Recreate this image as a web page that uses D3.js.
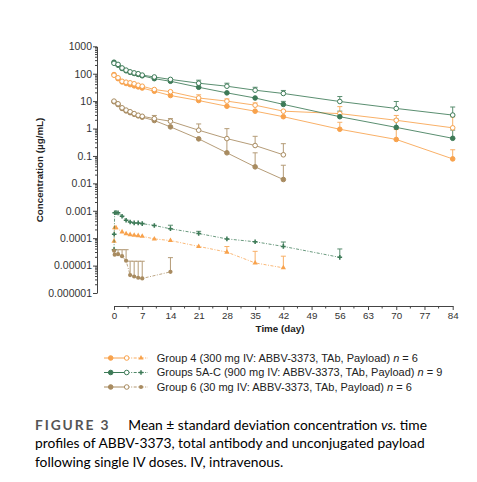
<!DOCTYPE html>
<html>
<head>
<meta charset="utf-8">
<script src="https://d3js.org/d3.v7.min.js"></script>
<style>
  body { margin: 0; background: #fff; }
  svg { display: block; }
</style>
</head>
<body>
<script>
// ---- data ----
var tabDays = [0, 1, 2, 3, 4, 5, 6, 7, 10, 14, 21, 28, 35, 42, 56, 70, 84];
var g6Days = [0, 1, 2, 3, 4, 5, 6, 7, 10, 14, 21, 28, 35, 42];

// Group 4 (300 mg)
var g4Adc = [93, 66, 50, 44, 40, 36, 33, 30, 23, 16, 10.5, 6.5, 4.3, 2.7, 0.94, 0.40, 0.078];
var g4AdcSd = [0, 0, 0, 0, 0, 0, 0, 0, 0, 0, 0, 0, 0, 0, 0.75, 0.52, 0.09];
var g4Tab = [88, 71, 53, 49, 46.5, 43, 38, 35, 26.5, 22, 13, 10, 7.1, 4.3, 3.5, 2.0, 1.06];
var g4TabSd = [0, 0, 0, 0, 0, 0, 0, 0, 0, 0, 4, 2, 1.5, 0, 2.8, 1, 1.6];
var g4PayDays = [0.02, 0.17, 0.5, 2, 3, 4, 5, 6, 7, 10, 14, 21, 28, 35, 42];
var g4Pay = [0.000077, 0.00024, 0.00024, 0.00017, 0.000144, 0.000135, 0.000128, 0.000124, 0.000117, 0.000094, 0.000082, 0.00005, 0.000031, 0.0000125, 0.0000083];
var g4PaySd = [0, 0, 0, 0, 0, 0, 0, 0, 0, 0, 0, 0, 0.0000186, 0.0000206, 0.0000137];

// Groups 5A-C (900 mg)
var g5Adc = [263, 205, 155, 128, 112, 102, 94, 84, 66, 53, 32, 20, 13, 7.6, 2.7, 1.1, 0.44];
var g5AdcSd = [0, 0, 0, 0, 0, 0, 0, 0, 0, 0, 0, 0, 0, 2.2, 1.6, 1.1, 0.44];
var g5Tab = [240, 219, 162, 135, 117, 107, 100, 89, 76, 62, 45, 35, 25, 19, 9.7, 5.4, 3.1];
var g5TabSd = [0, 0, 0, 0, 0, 0, 0, 0, 0, 3, 13, 10, 7, 5.5, 5, 4.3, 3];
var g5PayDays = [0.02, 0.05, 0.17, 0.5, 1, 2, 3, 4, 5, 6, 7, 10, 14, 21, 28, 35, 42, 56];
var g5Pay = [0.000038, 0.00014, 0.00085, 0.00086, 0.00084, 0.00063, 0.00045, 0.00039, 0.00036, 0.00036, 0.00034, 0.00029, 0.00022, 0.000148, 0.000094, 0.000074, 0.00005, 0.00002];
var g5PaySd = [0, 0, 0, 0, 0, 0, 0, 0, 0, 0, 0, 0, 0.000077, 0.00003, 0, 0, 0.0000225, 0.0000204];

// Group 6 (30 mg)
var g6Adc = [9.5, 7.5, 5.4, 4.4, 3.8, 3.3, 2.9, 2.6, 1.96, 1.15, 0.42, 0.13, 0.040, 0.0138];
var g6AdcSd = [0, 0, 0, 0, 0, 0, 0, 0, 0, 0, 0, 0.27, 0.09, 0.032];
var g6Tab = [10, 8, 5.7, 4.7, 4.1, 3.5, 3.06, 2.8, 2.3, 1.85, 0.87, 0.43, 0.24, 0.11];
var g6TabSd = [0, 0, 0, 0, 0, 0, 0, 0, 0.7, 0.45, 0.6, 0.56, 0.28, 0.17];
var g6PayDays = [0.02, 0.17, 1, 2, 3, 4, 5, 6, 7, 14];
var g6Pay = [0.000035, 0.000025, 0.000026, 0.000022, 0.000015, 0.0000045, 0.000004, 0.0000036, 0.0000034, 0.0000059];
var g6PaySd = [0, 0, 0.000012, 0.000016, 0.000023, 0.00001, 0.0000104, 0.0000108, 0.000011, 0.0000136];

var yTicks = [1000, 100, 10, 1, 0.1, 0.01, 0.001, 0.0001, 0.00001, 0.000001];
var yTickLabels = ["1000", "100", "10", "1", "0.1", "0.01", "0.001", "0.0001", "0.00001", "0.000001"];
var xTicks = [0, 7, 14, 21, 28, 35, 42, 49, 56, 63, 70, 77, 84];

var legendLabels = [
  "Group 4 (300 mg IV: ABBV-3373, TAb, Payload) ",
  "Groups 5A-C (900 mg IV: ABBV-3373, TAb, Payload) ",
  "Group 6 (30 mg IV: ABBV-3373, TAb, Payload) "
];
var legendN = ["6", "9", "6"];

var orange = "#f8a24c", green = "#3d7a57", brown = "#a88b60";

// ---- drawing ----
var svg = d3.select("body").append("svg")
  .attr("width", 477)
  .attr("height", 482);

var x = d3.scaleLinear().domain([0, 84]).range([114, 452.7]);
var y = d3.scaleLog().domain([0.000001, 1000]).range([293, 46.3]);

var axisFont = "'Liberation Sans', Arial, sans-serif";
var axisColor = "#444";

// y axis
var yAxis = svg.append("g").attr("transform", "translate(97,0)")
  .call(d3.axisLeft(y).tickValues(yTicks)
    .tickFormat(function(d, i) { return yTickLabels[i]; })
    .tickSize(4).tickPadding(1).tickSizeOuter(0));
var yMinor = [];
yTicks.slice(1).forEach(function(t) {
  for (var k = 2; k <= 9; k++) yMinor.push(t * k);
});
yAxis.selectAll(".minor").data(yMinor).enter().append("line")
  .attr("class", "minor")
  .attr("x1", 0).attr("x2", -2)
  .attr("y1", function(d) { return y(d); })
  .attr("y2", function(d) { return y(d); });

// x axis
var xAxis = svg.append("g").attr("transform", "translate(0,306)")
  .call(d3.axisBottom(x).tickValues(xTicks).tickSize(4).tickPadding(2).tickSizeOuter(0));
xAxis.selectAll(".minor").data(xTicks.slice(0, -1)).enter().append("line")
  .attr("class", "minor")
  .attr("y1", 0).attr("y2", 2.5)
  .attr("x1", function(d) { return x(d + 3.5); })
  .attr("x2", function(d) { return x(d + 3.5); });

[yAxis, xAxis].forEach(function(a) {
  a.select(".domain").attr("stroke", axisColor);
  a.selectAll("line").attr("stroke", axisColor);
  a.selectAll("text").attr("fill", "#333").style("font-family", axisFont);
});
yAxis.selectAll("text").style("font-size", "10.5px");
xAxis.selectAll("text").style("font-size", "9.8px");

svg.append("text")
  .attr("transform", "translate(43,170) rotate(-90)")
  .attr("text-anchor", "middle")
  .style("font-family", axisFont).style("font-size", "9.8px").style("font-weight", "bold")
  .attr("fill", "#222")
  .text("Concentration (\u00b5g/mL)");

svg.append("text")
  .attr("x", 280).attr("y", 332)
  .attr("text-anchor", "middle")
  .style("font-family", axisFont).style("font-size", "9.8px").style("font-weight", "bold")
  .attr("fill", "#222")
  .text("Time (day)");

// series
var series = [
  { days: g4PayDays, v: g4Pay, sd: g4PaySd, c: orange, kind: "pay", sym: d3.symbolTriangle },
  { days: g5PayDays, v: g5Pay, sd: g5PaySd, c: green, kind: "pay", sym: d3.symbolCross },
  { days: g6PayDays, v: g6Pay, sd: g6PaySd, c: brown, kind: "pay", sym: d3.symbolCircle },
  { days: g6Days, v: g6Adc, sd: g6AdcSd, c: brown, kind: "adc" },
  { days: g6Days, v: g6Tab, sd: g6TabSd, c: brown, kind: "tab" },
  { days: tabDays, v: g4Adc, sd: g4AdcSd, c: orange, kind: "adc" },
  { days: tabDays, v: g4Tab, sd: g4TabSd, c: orange, kind: "tab" },
  { days: tabDays, v: g5Adc, sd: g5AdcSd, c: green, kind: "adc" },
  { days: tabDays, v: g5Tab, sd: g5TabSd, c: green, kind: "tab" }
];

var line = d3.line()
  .x(function(d) { return x(d[0]); })
  .y(function(d) { return y(d[1]); });

var plot = svg.append("g");

// error bars first
series.forEach(function(s) {
  var pts = s.days.map(function(d, i) { return [d, s.v[i], s.sd[i]]; }).filter(function(p) { return p[2] > 0; });
  var eb = plot.append("g").attr("stroke", s.c).attr("stroke-width", 1).attr("opacity", 0.85);
  eb.selectAll(".v").data(pts).enter().append("line")
    .attr("x1", function(p) { return x(p[0]); }).attr("x2", function(p) { return x(p[0]); })
    .attr("y1", function(p) { return y(p[1]); }).attr("y2", function(p) { return y(p[1] + p[2]); });
  eb.selectAll(".h").data(pts).enter().append("line")
    .attr("x1", function(p) { return x(p[0]) - 2.5; }).attr("x2", function(p) { return x(p[0]) + 2.5; })
    .attr("y1", function(p) { return y(p[1] + p[2]); }).attr("y2", function(p) { return y(p[1] + p[2]); });
});

series.forEach(function(s) {
  var pts = s.days.map(function(d, i) { return [d, s.v[i]]; });
  plot.append("path").datum(pts)
    .attr("d", line)
    .attr("fill", "none")
    .attr("stroke", s.c)
    .attr("stroke-width", s.kind === "pay" ? 0.9 : 1)
    .attr("stroke-opacity", 0.85)
    .attr("stroke-dasharray", s.kind === "pay" ? "3,1.5,1,1.5" : null);
  if (s.kind === "pay") {
    plot.append("g").selectAll("path").data(pts).enter().append("path")
      .attr("transform", function(p) { return "translate(" + x(p[0]) + "," + y(p[1]) + ")"; })
      .attr("d", d3.symbol().type(s.sym).size(s.sym === d3.symbolCircle ? 14 : 12))
      .attr("fill", s.c);
  } else {
    plot.append("g").selectAll("circle").data(pts).enter().append("circle")
      .attr("cx", function(p) { return x(p[0]); })
      .attr("cy", function(p) { return y(p[1]); })
      .attr("r", 2.3)
      .attr("fill", s.kind === "tab" ? "#fff" : s.c)
      .attr("stroke", s.c)
      .attr("stroke-width", 1);
  }
});

// legend
var legColors = [orange, green, brown];
var legSyms = [d3.symbolTriangle, d3.symbolCross, d3.symbolCircle];
var leg = svg.append("g");
legendLabels.forEach(function(lbl, i) {
  var cy = 358 + i * 14.5;
  var row = leg.append("g");
  row.append("line").attr("x1", 104).attr("x2", 126.7).attr("y1", cy).attr("y2", cy)
    .attr("stroke", legColors[i]).attr("stroke-width", 1);
  row.append("line").attr("x1", 126.7).attr("x2", 148).attr("y1", cy).attr("y2", cy)
    .attr("stroke", legColors[i]).attr("stroke-width", 0.9).attr("stroke-dasharray", "3,1.5,1,1.5");
  row.append("circle").attr("cx", 110.7).attr("cy", cy).attr("r", 2.3).attr("fill", legColors[i]).attr("stroke", legColors[i]);
  row.append("circle").attr("cx", 126.7).attr("cy", cy).attr("r", 2.3).attr("fill", "#fff").attr("stroke", legColors[i]);
  row.append("path").attr("transform", "translate(141," + cy + ")")
    .attr("d", d3.symbol().type(legSyms[i]).size(legSyms[i] === d3.symbolCircle ? 14 : 12))
    .attr("fill", legColors[i]);
  var t = row.append("text").attr("x", 156.7).attr("y", cy + 3.8)
    .style("font-family", axisFont).style("font-size", "11px").attr("fill", "#222");
  t.append("tspan").text(lbl);
  t.append("tspan").style("font-style", "italic").text("n");
  t.append("tspan").text(" = " + legendN[i]);
});

// caption
var capFont = "Lato, 'Open Sans', sans-serif";
var cap = svg.append("g").style("font-family", capFont).style("font-size", "13.8px").attr("fill", "#000");
cap.append("text").attr("x", 35).attr("y", 429.5)
  .style("font-weight", "bold").style("letter-spacing", "1.9px").attr("fill", "#555")
  .text("FIGURE 3");
var l1 = cap.append("text").attr("x", 128.3).attr("y", 429.5);
l1.append("tspan").text("Mean \u00b1 standard deviation concentration ");
l1.append("tspan").style("font-style", "italic").text("vs.");
l1.append("tspan").text(" time");
cap.append("text").attr("x", 35).attr("y", 448)
  .text("profiles of ABBV-3373, total antibody and unconjugated payload");
cap.append("text").attr("x", 35).attr("y", 466.5)
  .text("following single IV doses. IV, intravenous.");
</script>
</body>
</html>
